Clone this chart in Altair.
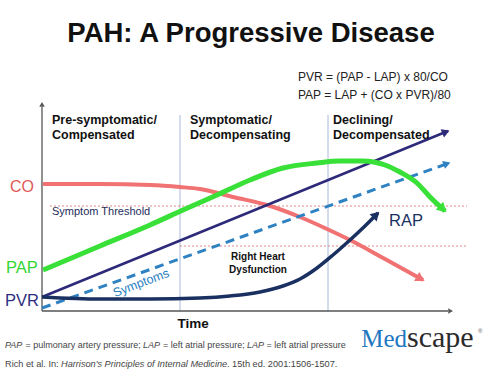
import math
import altair as alt
import pandas as pd

# ---- Diagram coordinate space: x 0..500 (left to right), y 0..375 (top to bottom)
# Curves
co_x = [43, 100, 150, 180, 200, 233, 267, 300, 327, 350, 385, 423]
co_y = [184, 184, 185, 187, 189, 197, 205, 217, 229, 240, 259, 280]

pap_x = [43, 100, 150, 183, 217, 250, 283, 317, 340, 363, 385, 400, 417, 430, 445]
pap_y = [270, 246, 225, 210, 195, 180, 168, 163, 161, 161, 165, 172, 183, 197, 211]

pvr_x = [42, 448]
pvr_y = [297, 131]

symptoms_x = [42, 449]
symptoms_y = [308, 163]

rap_x = [42, 100, 150, 200, 230, 260, 283, 300, 317, 333, 350, 365, 378]
rap_y = [297, 299, 299, 298, 296, 292, 286, 279, 268, 255, 240, 226, 213]

# Axes / guides
axis_origin = (42, 311)
axis_y_top = 103
axis_x_right = 452
phase_dividers_x = [180, 328]
divider_top = 115
threshold_y = [206, 246]
threshold_x0 = [50, 180]
threshold_x1 = [467, 467]

# Texts
title_text = "PAH: A Progressive Disease"
formulas = ["PVR = (PAP - LAP) x 80/CO", "PAP = LAP + (CO x PVR)/80"]
phase_labels = ["Pre-symptomatic/", "Compensated", "Symptomatic/", "Decompensating",
                "Declining/", "Decompensated"]
phase_x = [52, 52, 190, 190, 333, 333]
phase_y = [124, 139, 124, 139, 124, 139]

foot1_italic = ["PAP", "LAP", "LAP"]
foot1_italic_x = [5, 143, 247]
foot1_plain = ["= pulmonary artery pressure;", "= left atrial pressure;", "= left atrial pressure"]
foot1_plain_x = [25.5, 163, 266.5]
foot2_plain = ["Rich et al. In:", ". 15th ed. 2001:1506-1507."]
foot2_plain_x = [5, 227]
foot2_italic = ["Harrison's Principles of Internal Medicine"]
foot2_italic_x = [61]

FONT = "Liberation Sans"
XS = alt.Scale(domain=[0, 500], nice=False, zero=False)
YS = alt.Scale(domain=[0, 375], nice=False, zero=False, reverse=True)


def enc(chart, **extra):
    return chart.encode(
        x=alt.X("x:Q", scale=XS, axis=None),
        y=alt.Y("y:Q", scale=YS, axis=None),
        **extra,
    )


def text_layer(xs, ys, texts, **kw):
    df = pd.DataFrame({"x": xs, "y": ys, "t": texts})
    kw.setdefault("font", FONT)
    kw.setdefault("baseline", "alphabetic")
    kw.setdefault("align", "left")
    return enc(alt.Chart(df).mark_text(**kw), text="t:N")


def line_layer(xs, ys, **kw):
    df = pd.DataFrame({"x": xs, "y": ys, "i": list(range(len(xs)))})
    return enc(alt.Chart(df).mark_line(**kw), order="i:Q")


def arrow_head(xs, ys, color, size):
    x0, y0, x1, y1 = xs[-2], ys[-2], xs[-1], ys[-1]
    dx, dy = x1 - x0, y1 - y0
    ln = math.hypot(dx, dy)
    ang = math.degrees(math.atan2(dx, -dy)) % 360
    back = math.sqrt(size) * 0.4
    cx, cy = x1 - dx / ln * back, y1 - dy / ln * back
    df = pd.DataFrame({"x": [cx], "y": [cy]})
    return enc(alt.Chart(df).mark_point(shape="triangle", filled=True, opacity=1,
                                        color=color, size=size, angle=ang, strokeWidth=0))


def rule_layer(x0, y0, x1, y1, **kw):
    df = pd.DataFrame({"x": x0, "y": y0, "x2": x1, "y2": y1})
    return alt.Chart(df).mark_rule(**kw).encode(
        x=alt.X("x:Q", scale=XS, axis=None), y=alt.Y("y:Q", scale=YS, axis=None),
        x2="x2:Q", y2="y2:Q")


ox, oy = axis_origin
layers = []

# guides
layers.append(rule_layer(phase_dividers_x, [divider_top] * 2, phase_dividers_x, [oy] * 2,
                         color="#aab8dc", strokeWidth=1))
layers.append(rule_layer(threshold_x0, threshold_y, threshold_x1, threshold_y,
                         color="#d46a6a", strokeWidth=0.8, strokeDash=[2, 2]))
# axes
layers.append(rule_layer([ox, ox], [oy, oy], [ox, axis_x_right - 4], [axis_y_top + 4, oy],
                         color="#555555", strokeWidth=1.3))
layers.append(arrow_head([ox, ox], [oy, axis_y_top], "#555555", 30))
layers.append(arrow_head([ox, axis_x_right], [oy, oy], "#555555", 30))

# series
layers.append(line_layer(co_x, co_y, color="#f07272", strokeWidth=4, interpolate="monotone"))
layers.append(arrow_head(co_x, co_y, "#f07272", 110))
layers.append(line_layer(symptoms_x, symptoms_y, color="#2f82c2", strokeWidth=3,
                         strokeDash=[9, 6]))
layers.append(arrow_head(symptoms_x, symptoms_y, "#2f82c2", 70))
layers.append(line_layer(pvr_x, pvr_y, color="#2e2a7a", strokeWidth=2.5))
layers.append(arrow_head(pvr_x, pvr_y, "#2e2a7a", 80))
layers.append(line_layer(pap_x, pap_y, color="#38e038", strokeWidth=5, interpolate="monotone"))
layers.append(arrow_head(pap_x, pap_y, "#38e038", 120))
layers.append(line_layer(rap_x, rap_y, color="#1a3060", strokeWidth=3.5, interpolate="monotone"))
layers.append(arrow_head(rap_x, rap_y, "#1a3060", 100))

# texts
layers.append(text_layer([251], [42], [title_text], fontSize=27.5, fontWeight="bold",
                         align="center", color="#111111"))
layers.append(text_layer([298, 298], [81, 99], formulas, fontSize=12, color="#222222"))
layers.append(text_layer(phase_x, phase_y, phase_labels, fontSize=12.5, fontWeight="bold",
                         color="#111111"))
layers.append(text_layer([52], [215], ["Symptom Threshold"], fontSize=11, color="#1d2d5a"))
layers.append(text_layer([258, 258], [260, 273], ["Right Heart", "Dysfunction"], fontSize=10,
                         fontWeight="bold", align="center", color="#111111"))
layers.append(text_layer([389], [226], ["RAP"], fontSize=16.5, color="#1a3060"))
layers.append(text_layer([10], [192], ["CO"], fontSize=16, color="#e05858"))
layers.append(text_layer([6], [273], ["PAP"], fontSize=16.5, color="#33d633"))
layers.append(text_layer([5], [306], ["PVR"], fontSize=16.5, color="#2e2e80"))
layers.append(text_layer([141], [283], ["Symptoms"], fontSize=12.5, angle=339, align="center",
                         baseline="middle", color="#2a80c0"))
layers.append(text_layer([193], [328], ["Time"], fontSize=13.5, fontWeight="bold",
                         align="center", color="#111111"))

# footnotes
layers.append(text_layer(foot1_italic_x, [348] * 3, foot1_italic, fontSize=9,
                         fontStyle="italic", color="#444444"))
layers.append(text_layer(foot1_plain_x, [348] * 3, foot1_plain, fontSize=9, color="#444444"))
layers.append(text_layer(foot2_plain_x, [367] * 2, foot2_plain, fontSize=9.2, color="#444444"))
layers.append(text_layer(foot2_italic_x, [367], foot2_italic, fontSize=9.2,
                         fontStyle="italic", color="#444444"))

# logo
layers.append(text_layer([407], [347], ["Med"], fontSize=25, font="Liberation Serif",
                         align="right", color="#1f78c1"))
layers.append(text_layer([407], [347], ["scape"], fontSize=30, font="Liberation Serif",
                         color="#2b2b2b"))
layers.append(text_layer([478], [333], ["®"], fontSize=6, color="#555555"))

chart = alt.layer(*layers).properties(
    width=500, height=375, padding=0,
    autosize=alt.AutoSizeParams(type="none"),
    background="white",
).configure_view(strokeWidth=0)

chart.save("out.html", embed_options={"renderer": "svg", "actions": False})
